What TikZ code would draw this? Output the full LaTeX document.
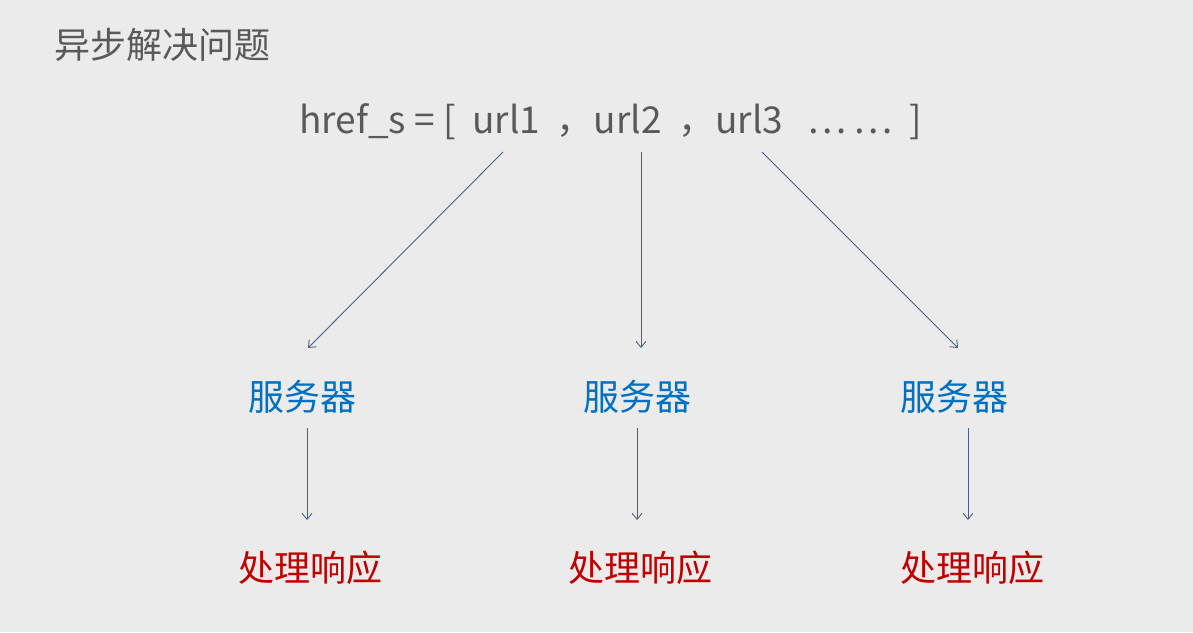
\documentclass[tikz,border=0pt]{standalone}
\usepackage{fontspec}
\setmainfont{Noto Sans CJK SC}
\usetikzlibrary{arrows.meta}
\definecolor{bg}{HTML}{EBEBEB}
\definecolor{tgray}{HTML}{595959}
\definecolor{sblue}{HTML}{0070C0}
\definecolor{rred}{HTML}{C00000}
\definecolor{aline}{HTML}{4A6080}
\tikzset{
  conn/.style={draw=aline,line width=0.9pt,-{Straight Barb[length=6pt,width=10pt]}},
  srv/.style={text=sblue,font=\fontsize{36}{40}\selectfont,inner sep=0pt},
  res/.style={text=rred,font=\fontsize{36}{40}\selectfont,inner sep=0pt},
}
\begin{document}
\begin{tikzpicture}[x=1pt,y=-1pt]
\fill[bg] (0,0) rectangle (1193,632);
\useasboundingbox (0,0) rectangle (1193,632);
\node[text=tgray,font=\fontsize{36}{40}\selectfont,anchor=west,inner sep=0pt] (title) at (54,45) {异步解决问题};
\node[text=tgray,font=\fontsize{37}{42}\selectfont,anchor=west,inner sep=0pt] (href) at (299,122) {href\_s = [\ \ url1\ \ ，url2\ \ ，url3\ \ \ …\,…\ \ ]};
\coordinate (u1) at (503,152);
\coordinate (u2) at (641,152);
\coordinate (u3) at (762,152);
\node[srv] (s1) at (302,397) {服务器};
\node[srv] (s2) at (637,397) {服务器};
\node[srv] (s3) at (954,397) {服务器};
\node[res] (r1) at (310,568) {处理响应};
\node[res] (r2) at (640,568) {处理响应};
\node[res] (r3) at (972,568) {处理响应};
\coordinate (a1) at (308,348);
\coordinate (a2) at (641,348);
\coordinate (a3) at (958,348);
\draw[conn] (u1) -- (a1);
\draw[conn] (u2) -- (a2);
\draw[conn] (u3) -- (a3);
\draw[conn] (307,428) -- (307,520);
\draw[conn] (637,428) -- (637,520);
\draw[conn] (968,428) -- (968,520);
\end{tikzpicture}
\end{document}
